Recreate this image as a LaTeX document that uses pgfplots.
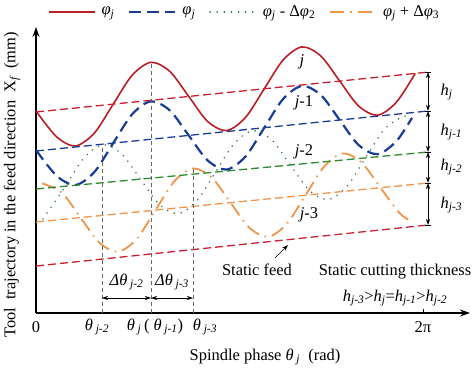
\documentclass[border=0pt]{standalone}
\usepackage{fontspec}
\setmainfont{Liberation Serif}
\usepackage{pgfplots}
\pgfplotsset{compat=1.18}
\usetikzlibrary{arrows.meta}
\definecolor{redc}{HTML}{B81E26}
\definecolor{redd}{HTML}{C8202F}
\definecolor{bluec}{HTML}{1A3C96}
\definecolor{greenc}{HTML}{2D8A2D}
\definecolor{greend}{HTML}{1E6E32}
\definecolor{orangec}{HTML}{F0944A}
\newcommand{\sub}[1]{\textsubscript{\itshape #1}}
\newcommand{\ital}[1]{{\itshape #1}}
\tikzset{harr/.style={{Stealth[length=6bp,width=4bp]}-{Stealth[length=6bp,width=4bp]}, line width=0.7bp}}
\begin{document}
\fontsize{16.5}{19}\selectfont
\begin{tikzpicture}
\begin{axis}[
  scale only axis, width=434bp, height=286bp,
  xmin=0, xmax=434, ymin=0, ymax=286,
  axis lines=left,
  axis line style={-{Stealth[length=10bp,width=7bp]}, line width=1.1bp, black},
  xtick={387}, xticklabels={}, ytick=\empty,
  xtick align=inside, major tick length=4bp,
  tick style={black, line width=0.6bp},
  clip=false,
  legend columns=4,
  legend style={at={(0.027,1.052)}, anchor=west, draw=none, fill=none,
    inner sep=0pt, font=\fontsize{16.5}{19}\selectfont,
    /tikz/every odd column/.append style={column sep=4bp},
    /tikz/every even column/.append style={column sep=12bp}},
  legend image code/.code={\draw[#1] (0bp,0bp) -- (46bp,0bp);},
]
% curves
\addplot[redc, line width=1.6bp, smooth] coordinates {
(0,202) (20.6,176.2) (39.5,167.0) (58.4,180.0) (77.25,208.9) (96.1,237.7)
(115,250.7) (133.9,241.5) (152.75,216.55) (171.6,191.6) (190.5,182.4)
(209.4,195.4) (228.25,224.2) (247.1,253.0) (266,266.1) (284.9,256.9)
(303.75,231.9) (322.6,207.0) (341.5,197.8) (360.4,210.8) (379.25,239.6)};
\addlegendentry{\ital{φ}\sub{j}}
\addplot[bluec, line width=2.2bp, smooth, dash pattern=on 12bp off 6bp] coordinates {
(0,163) (20.6,137.2) (39.5,128.0) (58.4,141.0) (77.25,169.9) (96.1,198.7)
(115,211.7) (133.9,202.5) (152.75,177.55) (171.6,152.6) (190.5,143.4)
(209.4,156.4) (228.25,185.2) (247.1,214.0) (266,227.1) (284.9,217.9)
(303.75,192.9) (322.6,168.0) (341.5,158.8) (360.4,171.8) (376,195.2)};
\addlegendentry{\ital{φ}\sub{j}}
\addplot[greend, line width=1.6bp, smooth, line cap=round, dash pattern=on 0.1bp off 7bp] coordinates {
(7,94) (29.5,126.8) (48.25,155.4) (67,168.3) (85.75,159.0) (104.5,133.8)
(123.25,108.7) (142,99.3) (160.75,112.2) (179.5,140.9) (198.25,169.5)
(217,182.4) (235.75,173.1) (254.5,147.9) (273.25,122.8) (292,113.4)
(310.75,126.3) (329.5,155.0) (348.25,183.6) (367,196.5) (374,195.6)};
\addlegendentry{\ital{φ}\sub{j} - Δ\ital{φ}\textsubscript{2}}
\addplot[orangec, line width=1.8bp, smooth, dash pattern=on 14bp off 6bp on 1.5bp off 6bp] coordinates {
(6,129.6) (25.75,120.5) (44.5,95.4) (63.25,70.4) (82,61.2) (100.75,74.1)
(119.5,102.9) (138.25,131.7) (157,144.6) (175.75,135.4) (194.5,110.4)
(213.25,85.3) (232,76.1) (250.75,89.1) (269.5,117.8) (288.25,146.6)
(307,159.6) (325.75,150.3) (344.5,125.3) (363.25,100.2) (374,92.3)};
\addlegendentry{\ital{φ}\sub{j} + Δ\ital{φ}\textsubscript{3}}
% static feed lines
\addplot[redd, line width=1.3bp, dash pattern=on 8bp off 4bp, forget plot] coordinates {(0,201) (393,241)};
\addplot[bluec, line width=1.3bp, dash pattern=on 8bp off 4bp, forget plot] coordinates {(0,162) (392,202)};
\addplot[greenc, line width=1.3bp, dash pattern=on 8bp off 4bp, forget plot] coordinates {(0,124) (392,161)};
\addplot[orangec, line width=1.3bp, dash pattern=on 8bp off 4bp, forget plot] coordinates {(0,91) (392,130)};
\addplot[redd, line width=1.3bp, dash pattern=on 8bp off 4bp, forget plot] coordinates {(0,47) (392,88)};
% vertical phase markers
\addplot[gray!80!black, line width=0.8bp, dash pattern=on 4bp off 3bp, forget plot] coordinates {(66,0) (66,169)};
\addplot[gray!80!black, line width=0.8bp, dash pattern=on 4bp off 3bp, forget plot] coordinates {(115,0) (115,250.7)};
\addplot[gray!80!black, line width=0.8bp, dash pattern=on 4bp off 3bp, forget plot] coordinates {(157,0) (157,144.6)};
% Delta theta arrows
\draw[harr] (axis cs:66,15) -- (axis cs:115,15);
\draw[harr] (axis cs:115,15) -- (axis cs:157,15);
\node at (axis cs:90.5,31) {\ital{Δθ}\,\sub{j-2}};
\node at (axis cs:136,31) {\ital{Δθ}\,\sub{j-3}};
% h arrows
\draw[harr] (axis cs:392,241) -- (axis cs:392,202);
\draw[harr] (axis cs:392,202) -- (axis cs:392,161);
\draw[harr] (axis cs:392,161) -- (axis cs:392,130);
\draw[harr] (axis cs:392,130) -- (axis cs:392,88);
\draw[line width=0.7bp] (axis cs:389,241) -- (axis cs:395,241);
\draw[line width=0.7bp] (axis cs:389,202) -- (axis cs:395,202);
\draw[line width=0.7bp] (axis cs:389,161) -- (axis cs:395,161);
\draw[line width=0.7bp] (axis cs:389,130) -- (axis cs:395,130);
\draw[line width=0.7bp] (axis cs:389,88) -- (axis cs:395,88);
\node[anchor=west] at (axis cs:399,221) {\ital{h}\sub{j}};
\node[anchor=west] at (axis cs:399,181) {\ital{h}\sub{j-1}};
\node[anchor=west] at (axis cs:399,146) {\ital{h}\sub{j-2}};
\node[anchor=west] at (axis cs:399,108) {\ital{h}\sub{j-3}};
% curve labels
\node at (axis cs:266,251) {\ital{j}};
\node at (axis cs:268,210) {\ital{j}-1};
\node at (axis cs:268,161) {\ital{j}-2};
\node at (axis cs:273,98) {\ital{j}-3};
% static feed
\node at (axis cs:221,43) {Static feed};
\draw[-{Stealth[length=6bp,width=4bp]}, line width=0.7bp] (axis cs:239,55) -- (axis cs:252,68);
\node at (axis cs:359,41) {Static cutting thickness};
\node at (axis cs:359,15) {\ital{h}\sub{j-3}>\ital{h}\sub{j}=\ital{h}\sub{j-1}>\ital{h}\sub{j-2}};
% tick labels
\node at (axis cs:0,-14) {0};
\node at (axis cs:61,-14) {\ital{θ}\,\sub{j-2}};
\node at (axis cs:119,-14) {\ital{θ}\,\sub{j}\,( \ital{θ}\,\sub{j-1})};
\node at (axis cs:169,-14) {\ital{θ}\,\sub{j-3}};
\node at (axis cs:387,-14) {2π};
% axis labels
\node at (axis cs:229,-44) {Spindle phase \ital{θ}\,\sub{j}\ \ (rad)};
\node[rotate=90] at (axis cs:-24,128) {Tool\ \ trajectory in the feed direction\ \ X\sub{f}\ \ (mm)};
\coordinate (bbll) at (axis cs:-36,-55);
\coordinate (bbur) at (axis cs:438,313);
\end{axis}
\pgfresetboundingbox
\path[use as bounding box] (bbll) rectangle (bbur);
\end{tikzpicture}
\end{document}
